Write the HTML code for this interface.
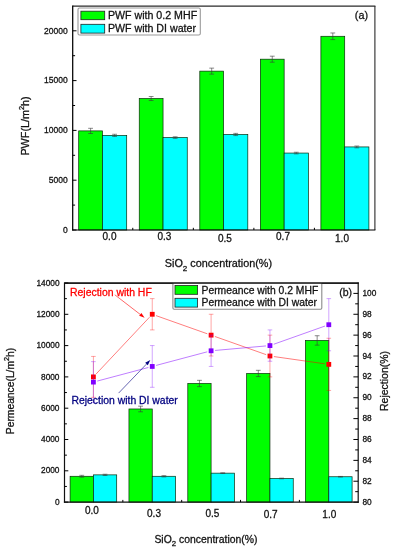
<!DOCTYPE html>
<html><head><meta charset="utf-8"><title>PWF and permeance charts</title>
<style>
html,body{margin:0;padding:0;background:#fff;}
svg{display:block;font-family:"Liberation Sans", Arial, sans-serif;}
text{stroke-width:0.28px;paint-order:stroke fill;}
</style></head>
<body>
<svg width="397" height="550" viewBox="0 0 397 550">
<rect x="0" y="0" width="397" height="550" fill="#ffffff"/>
<rect x="78.70" y="130.90" width="23.80" height="99.10" fill="#00ff00" stroke="#0a2a0a" stroke-width="0.7"/>
<rect x="102.50" y="135.38" width="24.20" height="94.62" fill="#00ffff" stroke="#0a2a0a" stroke-width="0.7"/>
<line x1="90.60" y1="128.30" x2="90.60" y2="133.50" stroke="#3a3a3a" stroke-width="0.6" />
<line x1="88.20" y1="128.30" x2="93.00" y2="128.30" stroke="#3a3a3a" stroke-width="0.6" />
<line x1="88.20" y1="133.50" x2="93.00" y2="133.50" stroke="#3a3a3a" stroke-width="0.6" />
<line x1="114.60" y1="134.28" x2="114.60" y2="136.48" stroke="#3a3a3a" stroke-width="0.6" />
<line x1="112.20" y1="134.28" x2="117.00" y2="134.28" stroke="#3a3a3a" stroke-width="0.6" />
<line x1="112.20" y1="136.48" x2="117.00" y2="136.48" stroke="#3a3a3a" stroke-width="0.6" />
<rect x="139.25" y="98.53" width="23.80" height="131.47" fill="#00ff00" stroke="#0a2a0a" stroke-width="0.7"/>
<rect x="163.05" y="137.57" width="24.20" height="92.43" fill="#00ffff" stroke="#0a2a0a" stroke-width="0.7"/>
<line x1="151.15" y1="96.53" x2="151.15" y2="100.53" stroke="#3a3a3a" stroke-width="0.6" />
<line x1="148.75" y1="96.53" x2="153.55" y2="96.53" stroke="#3a3a3a" stroke-width="0.6" />
<line x1="148.75" y1="100.53" x2="153.55" y2="100.53" stroke="#3a3a3a" stroke-width="0.6" />
<line x1="175.15" y1="136.77" x2="175.15" y2="138.37" stroke="#3a3a3a" stroke-width="0.6" />
<line x1="172.75" y1="136.77" x2="177.55" y2="136.77" stroke="#3a3a3a" stroke-width="0.6" />
<line x1="172.75" y1="138.37" x2="177.55" y2="138.37" stroke="#3a3a3a" stroke-width="0.6" />
<rect x="199.80" y="71.14" width="23.80" height="158.86" fill="#00ff00" stroke="#0a2a0a" stroke-width="0.7"/>
<rect x="223.60" y="134.48" width="24.20" height="95.52" fill="#00ffff" stroke="#0a2a0a" stroke-width="0.7"/>
<line x1="211.70" y1="68.14" x2="211.70" y2="74.14" stroke="#3a3a3a" stroke-width="0.6" />
<line x1="209.30" y1="68.14" x2="214.10" y2="68.14" stroke="#3a3a3a" stroke-width="0.6" />
<line x1="209.30" y1="74.14" x2="214.10" y2="74.14" stroke="#3a3a3a" stroke-width="0.6" />
<line x1="235.70" y1="133.38" x2="235.70" y2="135.58" stroke="#3a3a3a" stroke-width="0.6" />
<line x1="233.30" y1="133.38" x2="238.10" y2="133.38" stroke="#3a3a3a" stroke-width="0.6" />
<line x1="233.30" y1="135.58" x2="238.10" y2="135.58" stroke="#3a3a3a" stroke-width="0.6" />
<rect x="260.35" y="59.19" width="23.80" height="170.81" fill="#00ff00" stroke="#0a2a0a" stroke-width="0.7"/>
<rect x="284.15" y="153.06" width="24.20" height="76.94" fill="#00ffff" stroke="#0a2a0a" stroke-width="0.7"/>
<line x1="272.25" y1="56.19" x2="272.25" y2="62.19" stroke="#3a3a3a" stroke-width="0.6" />
<line x1="269.85" y1="56.19" x2="274.65" y2="56.19" stroke="#3a3a3a" stroke-width="0.6" />
<line x1="269.85" y1="62.19" x2="274.65" y2="62.19" stroke="#3a3a3a" stroke-width="0.6" />
<line x1="296.25" y1="152.26" x2="296.25" y2="153.86" stroke="#3a3a3a" stroke-width="0.6" />
<line x1="293.85" y1="152.26" x2="298.65" y2="152.26" stroke="#3a3a3a" stroke-width="0.6" />
<line x1="293.85" y1="153.86" x2="298.65" y2="153.86" stroke="#3a3a3a" stroke-width="0.6" />
<rect x="320.90" y="36.28" width="23.80" height="193.72" fill="#00ff00" stroke="#0a2a0a" stroke-width="0.7"/>
<rect x="344.70" y="146.93" width="24.20" height="83.07" fill="#00ffff" stroke="#0a2a0a" stroke-width="0.7"/>
<line x1="332.80" y1="32.98" x2="332.80" y2="39.58" stroke="#3a3a3a" stroke-width="0.6" />
<line x1="330.40" y1="32.98" x2="335.20" y2="32.98" stroke="#3a3a3a" stroke-width="0.6" />
<line x1="330.40" y1="39.58" x2="335.20" y2="39.58" stroke="#3a3a3a" stroke-width="0.6" />
<line x1="356.80" y1="146.03" x2="356.80" y2="147.83" stroke="#3a3a3a" stroke-width="0.6" />
<line x1="354.40" y1="146.03" x2="359.20" y2="146.03" stroke="#3a3a3a" stroke-width="0.6" />
<line x1="354.40" y1="147.83" x2="359.20" y2="147.83" stroke="#3a3a3a" stroke-width="0.6" />
<line x1="72.70" y1="6.05" x2="375.40" y2="6.05" stroke="#2a2a2a" stroke-width="1.2" />
<line x1="374.90" y1="6.00" x2="374.90" y2="230.00" stroke="#2a2a2a" stroke-width="1.1" />
<line x1="72.70" y1="5.50" x2="72.70" y2="230.60" stroke="#000" stroke-width="1.25" />
<line x1="72.10" y1="230.00" x2="375.40" y2="230.00" stroke="#000" stroke-width="1.2" />
<line x1="72.70" y1="230.00" x2="76.50" y2="230.00" stroke="#000" stroke-width="1" />
<text x="67.70" y="232.70" font-size="8.5" text-anchor="end" fill="#111" stroke="#111" >0</text>
<line x1="72.70" y1="180.20" x2="76.50" y2="180.20" stroke="#000" stroke-width="1" />
<text x="67.70" y="182.90" font-size="8.5" text-anchor="end" fill="#111" stroke="#111" >5000</text>
<line x1="72.70" y1="130.40" x2="76.50" y2="130.40" stroke="#000" stroke-width="1" />
<text x="67.70" y="133.10" font-size="8.5" text-anchor="end" fill="#111" stroke="#111" >10000</text>
<line x1="72.70" y1="80.60" x2="76.50" y2="80.60" stroke="#000" stroke-width="1" />
<text x="67.70" y="83.30" font-size="8.5" text-anchor="end" fill="#111" stroke="#111" >15000</text>
<line x1="72.70" y1="30.80" x2="76.50" y2="30.80" stroke="#000" stroke-width="1" />
<text x="67.70" y="33.50" font-size="8.5" text-anchor="end" fill="#111" stroke="#111" >20000</text>
<line x1="72.70" y1="205.10" x2="75.10" y2="205.10" stroke="#000" stroke-width="1" />
<line x1="72.70" y1="155.30" x2="75.10" y2="155.30" stroke="#000" stroke-width="1" />
<line x1="72.70" y1="105.50" x2="75.10" y2="105.50" stroke="#000" stroke-width="1" />
<line x1="72.70" y1="55.70" x2="75.10" y2="55.70" stroke="#000" stroke-width="1" />
<line x1="132.78" y1="230.00" x2="132.78" y2="227.80" stroke="#000" stroke-width="1" />
<line x1="193.33" y1="230.00" x2="193.33" y2="227.80" stroke="#000" stroke-width="1" />
<line x1="253.88" y1="230.00" x2="253.88" y2="227.80" stroke="#000" stroke-width="1" />
<line x1="314.42" y1="230.00" x2="314.42" y2="227.80" stroke="#000" stroke-width="1" />
<text x="109.50" y="239.60" font-size="10" text-anchor="middle" fill="#111" stroke="#111" >0.0</text>
<text x="164.40" y="239.60" font-size="10" text-anchor="middle" fill="#111" stroke="#111" >0.3</text>
<text x="224.90" y="241.50" font-size="10" text-anchor="middle" fill="#111" stroke="#111" >0.5</text>
<text x="283.00" y="240.40" font-size="10" text-anchor="middle" fill="#111" stroke="#111" >0.7</text>
<text x="342.00" y="241.50" font-size="10" text-anchor="middle" fill="#111" stroke="#111" >1.0</text>
<text x="164.8" y="267.2" font-size="10.82" fill="#111" stroke="#111">SiO<tspan font-size="8.0" dy="3.6">2</tspan><tspan dy="-3.6"> concentration(%)</tspan></text>
<text transform="translate(28.8,155.6) rotate(-90)" font-size="10.8" fill="#111" stroke="#111">PWF(L/m<tspan font-size="7.4" dy="-5.2">2</tspan><tspan dy="5.2">h)</tspan></text>
<text x="354.80" y="18.60" font-size="10.8" text-anchor="start" fill="#111" stroke="#111" >(a)</text>
<rect x="78.0" y="8.0" width="122.3" height="27.0" rx="1.5" fill="#fff" stroke="#9a9a9a" stroke-width="1.1"/>
<rect x="80.90" y="11.20" width="23.80" height="8.50" fill="#00ff00" stroke="#222" stroke-width="0.8"/>
<rect x="80.90" y="24.30" width="23.80" height="8.80" fill="#00ffff" stroke="#222" stroke-width="0.8"/>
<text x="107.90" y="19.10" font-size="10.65" text-anchor="start" fill="#111" stroke="#111" >PWF with 0.2 MHF</text>
<text x="107.90" y="32.00" font-size="10.65" text-anchor="start" fill="#111" stroke="#111" >PWF with DI water</text>
<rect x="70.10" y="476.28" width="23.30" height="25.82" fill="#00ff00" stroke="#0a2a0a" stroke-width="0.7"/>
<rect x="93.40" y="474.87" width="23.30" height="27.23" fill="#00ffff" stroke="#0a2a0a" stroke-width="0.7"/>
<line x1="81.75" y1="475.34" x2="81.75" y2="477.22" stroke="#3a3a3a" stroke-width="0.6" />
<line x1="79.35" y1="475.34" x2="84.15" y2="475.34" stroke="#3a3a3a" stroke-width="0.6" />
<line x1="79.35" y1="477.22" x2="84.15" y2="477.22" stroke="#3a3a3a" stroke-width="0.6" />
<line x1="105.05" y1="474.24" x2="105.05" y2="475.50" stroke="#3a3a3a" stroke-width="0.6" />
<line x1="102.65" y1="474.24" x2="107.45" y2="474.24" stroke="#3a3a3a" stroke-width="0.6" />
<line x1="102.65" y1="475.50" x2="107.45" y2="475.50" stroke="#3a3a3a" stroke-width="0.6" />
<rect x="128.95" y="408.98" width="23.30" height="93.12" fill="#00ff00" stroke="#0a2a0a" stroke-width="0.7"/>
<rect x="152.25" y="476.28" width="23.30" height="25.82" fill="#00ffff" stroke="#0a2a0a" stroke-width="0.7"/>
<line x1="140.60" y1="406.16" x2="140.60" y2="411.81" stroke="#3a3a3a" stroke-width="0.6" />
<line x1="138.20" y1="406.16" x2="143.00" y2="406.16" stroke="#3a3a3a" stroke-width="0.6" />
<line x1="138.20" y1="411.81" x2="143.00" y2="411.81" stroke="#3a3a3a" stroke-width="0.6" />
<line x1="163.90" y1="475.65" x2="163.90" y2="476.91" stroke="#3a3a3a" stroke-width="0.6" />
<line x1="161.50" y1="475.65" x2="166.30" y2="475.65" stroke="#3a3a3a" stroke-width="0.6" />
<line x1="161.50" y1="476.91" x2="166.30" y2="476.91" stroke="#3a3a3a" stroke-width="0.6" />
<rect x="187.80" y="383.47" width="23.30" height="118.63" fill="#00ff00" stroke="#0a2a0a" stroke-width="0.7"/>
<rect x="211.10" y="473.15" width="23.30" height="28.95" fill="#00ffff" stroke="#0a2a0a" stroke-width="0.7"/>
<line x1="199.45" y1="380.33" x2="199.45" y2="386.61" stroke="#3a3a3a" stroke-width="0.6" />
<line x1="197.05" y1="380.33" x2="201.85" y2="380.33" stroke="#3a3a3a" stroke-width="0.6" />
<line x1="197.05" y1="386.61" x2="201.85" y2="386.61" stroke="#3a3a3a" stroke-width="0.6" />
<line x1="222.75" y1="472.83" x2="222.75" y2="473.46" stroke="#3a3a3a" stroke-width="0.6" />
<line x1="220.35" y1="472.83" x2="225.15" y2="472.83" stroke="#3a3a3a" stroke-width="0.6" />
<line x1="220.35" y1="473.46" x2="225.15" y2="473.46" stroke="#3a3a3a" stroke-width="0.6" />
<rect x="246.65" y="373.46" width="23.30" height="128.64" fill="#00ff00" stroke="#0a2a0a" stroke-width="0.7"/>
<rect x="269.95" y="478.47" width="23.30" height="23.63" fill="#00ffff" stroke="#0a2a0a" stroke-width="0.7"/>
<line x1="258.30" y1="370.32" x2="258.30" y2="376.60" stroke="#3a3a3a" stroke-width="0.6" />
<line x1="255.90" y1="370.32" x2="260.70" y2="370.32" stroke="#3a3a3a" stroke-width="0.6" />
<line x1="255.90" y1="376.60" x2="260.70" y2="376.60" stroke="#3a3a3a" stroke-width="0.6" />
<line x1="281.60" y1="478.15" x2="281.60" y2="478.78" stroke="#3a3a3a" stroke-width="0.6" />
<line x1="279.20" y1="478.15" x2="284.00" y2="478.15" stroke="#3a3a3a" stroke-width="0.6" />
<line x1="279.20" y1="478.78" x2="284.00" y2="478.78" stroke="#3a3a3a" stroke-width="0.6" />
<rect x="305.50" y="340.44" width="23.30" height="161.66" fill="#00ff00" stroke="#0a2a0a" stroke-width="0.7"/>
<rect x="328.80" y="476.75" width="23.30" height="25.35" fill="#00ffff" stroke="#0a2a0a" stroke-width="0.7"/>
<line x1="317.15" y1="335.73" x2="317.15" y2="345.15" stroke="#3a3a3a" stroke-width="0.6" />
<line x1="314.75" y1="335.73" x2="319.55" y2="335.73" stroke="#3a3a3a" stroke-width="0.6" />
<line x1="314.75" y1="345.15" x2="319.55" y2="345.15" stroke="#3a3a3a" stroke-width="0.6" />
<line x1="340.45" y1="476.43" x2="340.45" y2="477.06" stroke="#3a3a3a" stroke-width="0.6" />
<line x1="338.05" y1="476.43" x2="342.85" y2="476.43" stroke="#3a3a3a" stroke-width="0.6" />
<line x1="338.05" y1="477.06" x2="342.85" y2="477.06" stroke="#3a3a3a" stroke-width="0.6" />
<line x1="64.50" y1="283.10" x2="358.70" y2="283.10" stroke="#111" stroke-width="1.25" />
<line x1="64.50" y1="282.50" x2="64.50" y2="502.65" stroke="#111" stroke-width="1.2" />
<line x1="358.20" y1="282.50" x2="358.20" y2="502.65" stroke="#111" stroke-width="1.2" />
<line x1="63.90" y1="502.10" x2="358.80" y2="502.10" stroke="#111" stroke-width="1.1" />
<line x1="64.50" y1="502.10" x2="68.30" y2="502.10" stroke="#000" stroke-width="1" />
<text x="59.50" y="504.70" font-size="8.3" text-anchor="end" fill="#111" stroke="#111" >0</text>
<line x1="64.50" y1="470.80" x2="68.30" y2="470.80" stroke="#000" stroke-width="1" />
<text x="59.50" y="473.40" font-size="8.3" text-anchor="end" fill="#111" stroke="#111" >2000</text>
<line x1="64.50" y1="439.50" x2="68.30" y2="439.50" stroke="#000" stroke-width="1" />
<text x="59.50" y="442.10" font-size="8.3" text-anchor="end" fill="#111" stroke="#111" >4000</text>
<line x1="64.50" y1="408.20" x2="68.30" y2="408.20" stroke="#000" stroke-width="1" />
<text x="59.50" y="410.80" font-size="8.3" text-anchor="end" fill="#111" stroke="#111" >6000</text>
<line x1="64.50" y1="376.90" x2="68.30" y2="376.90" stroke="#000" stroke-width="1" />
<text x="59.50" y="379.50" font-size="8.3" text-anchor="end" fill="#111" stroke="#111" >8000</text>
<line x1="64.50" y1="345.60" x2="68.30" y2="345.60" stroke="#000" stroke-width="1" />
<text x="59.50" y="348.20" font-size="8.3" text-anchor="end" fill="#111" stroke="#111" >10000</text>
<line x1="64.50" y1="314.30" x2="68.30" y2="314.30" stroke="#000" stroke-width="1" />
<text x="59.50" y="316.90" font-size="8.3" text-anchor="end" fill="#111" stroke="#111" >12000</text>
<line x1="64.50" y1="283.00" x2="68.30" y2="283.00" stroke="#000" stroke-width="1" />
<text x="59.50" y="285.60" font-size="8.3" text-anchor="end" fill="#111" stroke="#111" >14000</text>
<line x1="64.50" y1="486.45" x2="66.90" y2="486.45" stroke="#000" stroke-width="1" />
<line x1="64.50" y1="455.15" x2="66.90" y2="455.15" stroke="#000" stroke-width="1" />
<line x1="64.50" y1="423.85" x2="66.90" y2="423.85" stroke="#000" stroke-width="1" />
<line x1="64.50" y1="392.55" x2="66.90" y2="392.55" stroke="#000" stroke-width="1" />
<line x1="64.50" y1="361.25" x2="66.90" y2="361.25" stroke="#000" stroke-width="1" />
<line x1="64.50" y1="329.95" x2="66.90" y2="329.95" stroke="#000" stroke-width="1" />
<line x1="64.50" y1="298.65" x2="66.90" y2="298.65" stroke="#000" stroke-width="1" />
<line x1="358.20" y1="502.10" x2="353.40" y2="502.10" stroke="#000" stroke-width="1" />
<text x="362.50" y="504.70" font-size="8.3" text-anchor="start" fill="#111" stroke="#111" >80</text>
<line x1="358.20" y1="481.23" x2="353.40" y2="481.23" stroke="#000" stroke-width="1" />
<text x="362.50" y="483.83" font-size="8.3" text-anchor="start" fill="#111" stroke="#111" >82</text>
<line x1="358.20" y1="460.36" x2="353.40" y2="460.36" stroke="#000" stroke-width="1" />
<text x="362.50" y="462.96" font-size="8.3" text-anchor="start" fill="#111" stroke="#111" >84</text>
<line x1="358.20" y1="439.49" x2="353.40" y2="439.49" stroke="#000" stroke-width="1" />
<text x="362.50" y="442.09" font-size="8.3" text-anchor="start" fill="#111" stroke="#111" >86</text>
<line x1="358.20" y1="418.62" x2="353.40" y2="418.62" stroke="#000" stroke-width="1" />
<text x="362.50" y="421.22" font-size="8.3" text-anchor="start" fill="#111" stroke="#111" >88</text>
<line x1="358.20" y1="397.75" x2="353.40" y2="397.75" stroke="#000" stroke-width="1" />
<text x="362.50" y="400.35" font-size="8.3" text-anchor="start" fill="#111" stroke="#111" >90</text>
<line x1="358.20" y1="376.88" x2="353.40" y2="376.88" stroke="#000" stroke-width="1" />
<text x="362.50" y="379.48" font-size="8.3" text-anchor="start" fill="#111" stroke="#111" >92</text>
<line x1="358.20" y1="356.01" x2="353.40" y2="356.01" stroke="#000" stroke-width="1" />
<text x="362.50" y="358.61" font-size="8.3" text-anchor="start" fill="#111" stroke="#111" >94</text>
<line x1="358.20" y1="335.14" x2="353.40" y2="335.14" stroke="#000" stroke-width="1" />
<text x="362.50" y="337.74" font-size="8.3" text-anchor="start" fill="#111" stroke="#111" >96</text>
<line x1="358.20" y1="314.27" x2="353.40" y2="314.27" stroke="#000" stroke-width="1" />
<text x="362.50" y="316.87" font-size="8.3" text-anchor="start" fill="#111" stroke="#111" >98</text>
<line x1="358.20" y1="293.40" x2="353.40" y2="293.40" stroke="#000" stroke-width="1" />
<text x="362.50" y="296.00" font-size="8.3" text-anchor="start" fill="#111" stroke="#111" >100</text>
<line x1="358.20" y1="491.66" x2="355.20" y2="491.66" stroke="#000" stroke-width="1" />
<line x1="358.20" y1="470.79" x2="355.20" y2="470.79" stroke="#000" stroke-width="1" />
<line x1="358.20" y1="449.92" x2="355.20" y2="449.92" stroke="#000" stroke-width="1" />
<line x1="358.20" y1="429.05" x2="355.20" y2="429.05" stroke="#000" stroke-width="1" />
<line x1="358.20" y1="408.19" x2="355.20" y2="408.19" stroke="#000" stroke-width="1" />
<line x1="358.20" y1="387.31" x2="355.20" y2="387.31" stroke="#000" stroke-width="1" />
<line x1="358.20" y1="366.44" x2="355.20" y2="366.44" stroke="#000" stroke-width="1" />
<line x1="358.20" y1="345.57" x2="355.20" y2="345.57" stroke="#000" stroke-width="1" />
<line x1="358.20" y1="324.70" x2="355.20" y2="324.70" stroke="#000" stroke-width="1" />
<line x1="358.20" y1="303.83" x2="355.20" y2="303.83" stroke="#000" stroke-width="1" />
<line x1="122.83" y1="502.10" x2="122.83" y2="499.90" stroke="#000" stroke-width="1" />
<line x1="181.68" y1="502.10" x2="181.68" y2="499.90" stroke="#000" stroke-width="1" />
<line x1="240.53" y1="502.10" x2="240.53" y2="499.90" stroke="#000" stroke-width="1" />
<line x1="299.38" y1="502.10" x2="299.38" y2="499.90" stroke="#000" stroke-width="1" />
<text x="91.90" y="514.10" font-size="10" text-anchor="middle" fill="#111" stroke="#111" >0.0</text>
<text x="154.00" y="516.60" font-size="10" text-anchor="middle" fill="#111" stroke="#111" >0.3</text>
<text x="212.40" y="516.60" font-size="10" text-anchor="middle" fill="#111" stroke="#111" >0.5</text>
<text x="270.70" y="517.80" font-size="10" text-anchor="middle" fill="#111" stroke="#111" >0.7</text>
<text x="329.30" y="517.60" font-size="10" text-anchor="middle" fill="#111" stroke="#111" >1.0</text>
<text x="154.4" y="542.7" font-size="10.4" fill="#111" stroke="#111">SiO<tspan font-size="7.8" dy="3.7">2</tspan><tspan dy="-3.7"> concentration(%)</tspan></text>
<text transform="translate(13.6,434.2) rotate(-90)" font-size="10.3" fill="#111" stroke="#111">Permeance(L/m<tspan font-size="7.2" dy="-5">2</tspan><tspan dy="5">h)</tspan></text>
<text transform="translate(388,381) rotate(-90)" text-anchor="middle" font-size="10.5" fill="#111" stroke="#111">Rejection(%)</text>
<text x="339.20" y="295.90" font-size="10.5" text-anchor="start" fill="#111" stroke="#111" >(b)</text>
<line x1="93.40" y1="356.43" x2="93.40" y2="397.33" stroke="#ff0000" stroke-width="0.55" stroke-opacity="0.65"/>
<line x1="91.10" y1="356.43" x2="95.70" y2="356.43" stroke="#ff0000" stroke-width="0.55" stroke-opacity="0.65"/>
<line x1="91.10" y1="397.33" x2="95.70" y2="397.33" stroke="#ff0000" stroke-width="0.55" stroke-opacity="0.65"/>
<line x1="152.25" y1="298.62" x2="152.25" y2="329.92" stroke="#ff0000" stroke-width="0.55" stroke-opacity="0.65"/>
<line x1="149.95" y1="298.62" x2="154.55" y2="298.62" stroke="#ff0000" stroke-width="0.55" stroke-opacity="0.65"/>
<line x1="149.95" y1="329.92" x2="154.55" y2="329.92" stroke="#ff0000" stroke-width="0.55" stroke-opacity="0.65"/>
<line x1="211.10" y1="314.27" x2="211.10" y2="356.01" stroke="#ff0000" stroke-width="0.55" stroke-opacity="0.65"/>
<line x1="208.80" y1="314.27" x2="213.40" y2="314.27" stroke="#ff0000" stroke-width="0.55" stroke-opacity="0.65"/>
<line x1="208.80" y1="356.01" x2="213.40" y2="356.01" stroke="#ff0000" stroke-width="0.55" stroke-opacity="0.65"/>
<line x1="269.95" y1="335.14" x2="269.95" y2="376.88" stroke="#ff0000" stroke-width="0.55" stroke-opacity="0.65"/>
<line x1="267.65" y1="335.14" x2="272.25" y2="335.14" stroke="#ff0000" stroke-width="0.55" stroke-opacity="0.65"/>
<line x1="267.65" y1="376.88" x2="272.25" y2="376.88" stroke="#ff0000" stroke-width="0.55" stroke-opacity="0.65"/>
<line x1="328.80" y1="338.27" x2="328.80" y2="390.45" stroke="#ff0000" stroke-width="0.55" stroke-opacity="0.65"/>
<line x1="326.50" y1="338.27" x2="331.10" y2="338.27" stroke="#ff0000" stroke-width="0.55" stroke-opacity="0.65"/>
<line x1="326.50" y1="390.45" x2="331.10" y2="390.45" stroke="#ff0000" stroke-width="0.55" stroke-opacity="0.65"/>
<line x1="96.14" y1="373.97" x2="149.51" y2="317.18" stroke="#ff0000" stroke-width="0.6" stroke-opacity="0.85"/>
<line x1="156.02" y1="315.61" x2="207.33" y2="333.80" stroke="#ff0000" stroke-width="0.6" stroke-opacity="0.85"/>
<line x1="214.87" y1="336.48" x2="266.18" y2="354.67" stroke="#ff0000" stroke-width="0.6" stroke-opacity="0.85"/>
<line x1="273.91" y1="356.57" x2="324.84" y2="363.80" stroke="#ff0000" stroke-width="0.6" stroke-opacity="0.85"/>
<rect x="91.00" y="374.48" width="4.8" height="4.8" fill="#ff0000"/>
<rect x="149.85" y="311.87" width="4.8" height="4.8" fill="#ff0000"/>
<rect x="208.70" y="332.74" width="4.8" height="4.8" fill="#ff0000"/>
<rect x="267.55" y="353.61" width="4.8" height="4.8" fill="#ff0000"/>
<rect x="326.40" y="361.96" width="4.8" height="4.8" fill="#ff0000"/>
<line x1="93.40" y1="361.64" x2="93.40" y2="402.55" stroke="#8000ff" stroke-width="0.55" stroke-opacity="0.65"/>
<line x1="91.10" y1="361.64" x2="95.70" y2="361.64" stroke="#8000ff" stroke-width="0.55" stroke-opacity="0.65"/>
<line x1="91.10" y1="402.55" x2="95.70" y2="402.55" stroke="#8000ff" stroke-width="0.55" stroke-opacity="0.65"/>
<line x1="152.25" y1="345.57" x2="152.25" y2="387.31" stroke="#8000ff" stroke-width="0.55" stroke-opacity="0.65"/>
<line x1="149.95" y1="345.57" x2="154.55" y2="345.57" stroke="#8000ff" stroke-width="0.55" stroke-opacity="0.65"/>
<line x1="149.95" y1="387.31" x2="154.55" y2="387.31" stroke="#8000ff" stroke-width="0.55" stroke-opacity="0.65"/>
<line x1="211.10" y1="335.14" x2="211.10" y2="366.44" stroke="#8000ff" stroke-width="0.55" stroke-opacity="0.65"/>
<line x1="208.80" y1="335.14" x2="213.40" y2="335.14" stroke="#8000ff" stroke-width="0.55" stroke-opacity="0.65"/>
<line x1="208.80" y1="366.44" x2="213.40" y2="366.44" stroke="#8000ff" stroke-width="0.55" stroke-opacity="0.65"/>
<line x1="269.95" y1="329.92" x2="269.95" y2="361.23" stroke="#8000ff" stroke-width="0.55" stroke-opacity="0.65"/>
<line x1="267.65" y1="329.92" x2="272.25" y2="329.92" stroke="#8000ff" stroke-width="0.55" stroke-opacity="0.65"/>
<line x1="267.65" y1="361.23" x2="272.25" y2="361.23" stroke="#8000ff" stroke-width="0.55" stroke-opacity="0.65"/>
<line x1="328.80" y1="298.62" x2="328.80" y2="350.79" stroke="#8000ff" stroke-width="0.55" stroke-opacity="0.65"/>
<line x1="326.50" y1="298.62" x2="331.10" y2="298.62" stroke="#8000ff" stroke-width="0.55" stroke-opacity="0.65"/>
<line x1="326.50" y1="350.79" x2="331.10" y2="350.79" stroke="#8000ff" stroke-width="0.55" stroke-opacity="0.65"/>
<line x1="97.27" y1="381.07" x2="148.38" y2="367.47" stroke="#8000ff" stroke-width="0.6" stroke-opacity="0.85"/>
<line x1="156.12" y1="365.42" x2="207.23" y2="351.82" stroke="#8000ff" stroke-width="0.6" stroke-opacity="0.85"/>
<line x1="215.08" y1="350.44" x2="265.97" y2="345.93" stroke="#8000ff" stroke-width="0.6" stroke-opacity="0.85"/>
<line x1="273.72" y1="344.24" x2="325.03" y2="326.04" stroke="#8000ff" stroke-width="0.6" stroke-opacity="0.85"/>
<rect x="91.00" y="379.70" width="4.8" height="4.8" fill="#8000ff"/>
<rect x="149.85" y="364.05" width="4.8" height="4.8" fill="#8000ff"/>
<rect x="208.70" y="348.39" width="4.8" height="4.8" fill="#8000ff"/>
<rect x="267.55" y="343.18" width="4.8" height="4.8" fill="#8000ff"/>
<rect x="326.40" y="322.31" width="4.8" height="4.8" fill="#8000ff"/>
<rect x="172.9" y="282.6" width="148.9" height="26.6" rx="1.2" fill="#fff" stroke="#8a8a8a" stroke-width="1.1"/>
<rect x="175.00" y="285.50" width="22.60" height="8.80" fill="#00ff00" stroke="#222" stroke-width="0.8"/>
<rect x="175.00" y="298.30" width="22.60" height="8.80" fill="#00ffff" stroke="#222" stroke-width="0.8"/>
<text x="201.50" y="293.60" font-size="10.35" text-anchor="start" fill="#111" stroke="#111" >Permeance with 0.2 MHF</text>
<text x="201.50" y="306.30" font-size="10.35" text-anchor="start" fill="#111" stroke="#111" >Permeance with DI water</text>
<line x1="64.50" y1="283.10" x2="358.70" y2="283.10" stroke="#111" stroke-width="1.25" />
<text x="70.00" y="295.60" font-size="10.45" text-anchor="start" fill="#ff0000" stroke="#ff0000" >Rejection with HF</text>
<text x="71.50" y="404.10" font-size="10.4" text-anchor="start" fill="#000080" stroke="#000080" >Rejection with DI water</text>
<line x1="114.80" y1="294.80" x2="140.25" y2="314.44" stroke="#ff0000" stroke-width="0.6" />
<polygon points="144.60,317.80 139.15,315.86 141.35,313.01" fill="#ff0000"/>
<line x1="118.60" y1="393.10" x2="146.49" y2="364.07" stroke="#000080" stroke-width="0.6" />
<polygon points="150.30,360.10 147.79,365.31 145.19,362.82" fill="#000080"/>
</svg>
</body></html>
